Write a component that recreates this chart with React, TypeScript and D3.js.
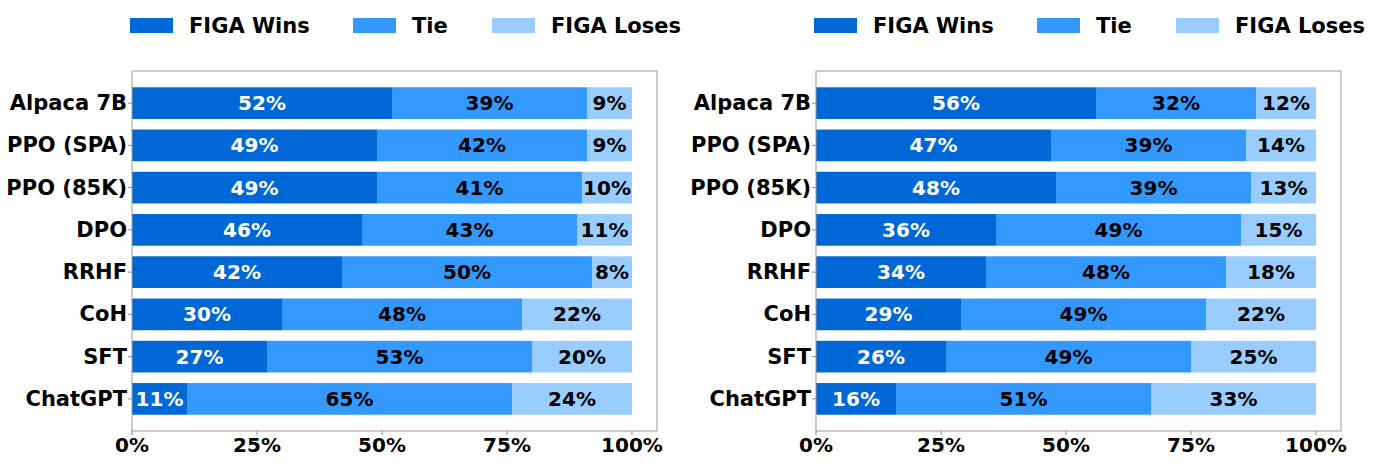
import React from "react";
import * as d3 from "d3";

const categories = ["Alpaca 7B", "PPO (SPA)", "PPO (85K)", "DPO", "RRHF", "CoH", "SFT", "ChatGPT"];
const seriesNames = ["FIGA Wins", "Tie", "FIGA Loses"];
const colors = ["#0068d6", "#3399ff", "#99ccff"];
const textColors = ["#ffffff", "#000000", "#000000"];

const leftWins = [52, 49, 49, 46, 42, 30, 27, 11];
const leftTie = [39, 42, 41, 43, 50, 48, 53, 65];
const leftLoses = [9, 9, 10, 11, 8, 22, 20, 24];

const rightWins = [56, 47, 48, 36, 34, 29, 26, 16];
const rightTie = [32, 39, 39, 49, 48, 49, 49, 51];
const rightLoses = [12, 14, 13, 15, 18, 22, 25, 33];

const xTicks = [0, 25, 50, 75, 100];

const FONT = "'DejaVu Sans', sans-serif";

function Panel({ x0, wins, tie, loses }: { x0: number; wins: number[]; tie: number[]; loses: number[] }) {
  const x = d3.scaleLinear().domain([0, 105]).range([x0, x0 + 525]);
  const y = d3.scaleLinear().domain([-0.76, 7.76]).range([71, 431]);
  const barH = y(0.375) - y(0);
  const series = [wins, tie, loses];
  const legendX = [0, 223, 362];
  return (
    <g>
      {/* legend */}
      {seriesNames.map((name, k) => (
        <g key={name} transform={`translate(${x0 - 2 + legendX[k]},0)`}>
          <rect x={0} y={18} width={43} height={15} fill={colors[k]} />
          <text x={59} y={25.5} dominantBaseline="central" fontSize={21} fontWeight="bold" fontFamily={FONT}>
            {name}
          </text>
        </g>
      ))}
      {/* bars */}
      {categories.map((c, i) => {
        let acc = 0;
        return (
          <g key={c}>
            {series.map((s, k) => {
              const start = acc;
              acc += s[i];
              const xs = x(start);
              const xe = x(acc);
              return (
                <g key={k}>
                  <rect x={xs} y={y(i) - barH} width={xe - xs} height={barH * 2} fill={colors[k]} />
                  <text
                    x={(xs + xe) / 2}
                    y={y(i)}
                    textAnchor="middle"
                    dominantBaseline="central"
                    fontSize={20}
                    fontWeight="bold"
                    fontFamily={FONT}
                    fill={textColors[k]}
                  >
                    {s[i]}%
                  </text>
                </g>
              );
            })}
            <line x1={x0 - 4} x2={x0} y1={y(i)} y2={y(i)} stroke="#888" strokeWidth={1} />
            <text
              x={x0 - 5}
              y={y(i)}
              textAnchor="end"
              dominantBaseline="central"
              fontSize={21}
              fontWeight="bold"
              fontFamily={FONT}
            >
              {c}
            </text>
          </g>
        );
      })}
      {/* frame */}
      <rect x={x0} y={71} width={525} height={360} fill="none" stroke="#999" strokeWidth={1} />
      {xTicks.map((t) => (
        <g key={t}>
          <line x1={x(t)} x2={x(t)} y1={431} y2={435} stroke="#888" strokeWidth={1} />
          <text x={x(t)} y={445} textAnchor="middle" dominantBaseline="central" fontSize={20} fontWeight="bold" fontFamily={FONT}>
            {t}%
          </text>
        </g>
      ))}
    </g>
  );
}

export default function App() {
  return (
    <svg width={1376} height={467} style={{ position: "absolute", left: 0, top: 0, background: "#fff" }}>
      <rect width={1376} height={467} fill="#fff" />
      <Panel x0={132} wins={leftWins} tie={leftTie} loses={leftLoses} />
      <Panel x0={816} wins={rightWins} tie={rightTie} loses={rightLoses} />
    </svg>
  );
}
